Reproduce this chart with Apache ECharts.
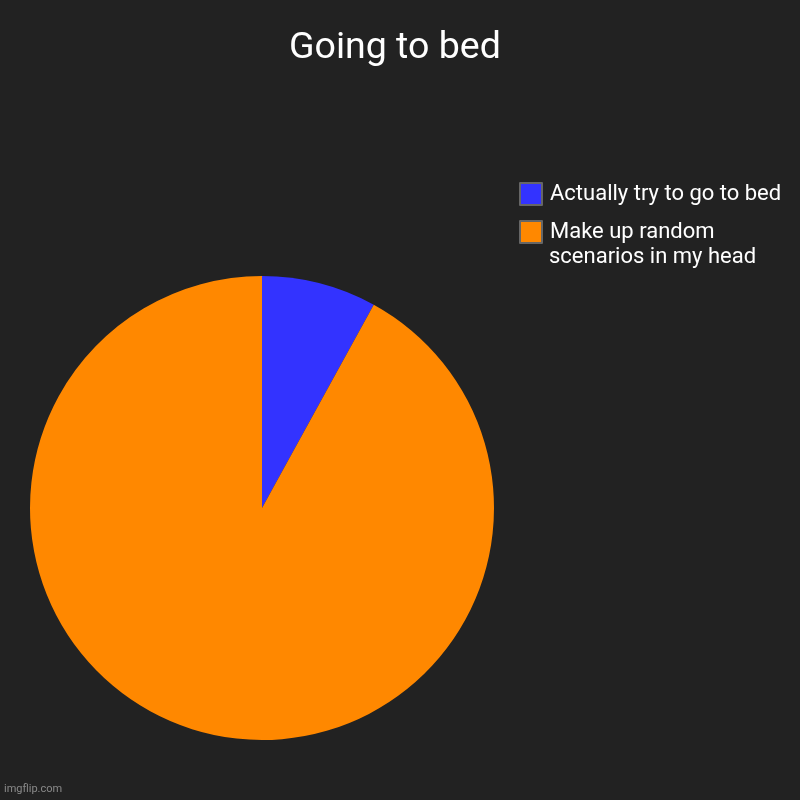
<!DOCTYPE html>
<html>
<head>
<meta charset="utf-8">
<script src="https://cdn.jsdelivr.net/npm/echarts@6/dist/echarts.min.js"></script>
<style>
  html, body { margin: 0; padding: 0; background: #222222; }
  #chart { width: 800px; height: 800px; }
</style>
</head>
<body>
<div id="chart"></div>
<script>
// data
const categories = ['Actually try to go to bed', 'Make up random scenarios in my head'];
const values = [8, 92];
const colors = ['#3333ff', '#ff8800'];

const chart = echarts.init(document.getElementById('chart'));

const pieData = categories.map((name, i) => ({
  name: name,
  value: values[i],
  itemStyle: { color: colors[i] }
}));

const option = {
  backgroundColor: '#222222',
  animation: false,
  title: {
    text: 'Going to bed',
    left: 289,
    top: 30,
    padding: 0,
    textStyle: { color: '#ffffff', fontSize: 37.5, fontWeight: 'normal', fontFamily: 'Roboto' }
  },
  legend: {
    orient: 'vertical',
    left: 519,
    top: 182,
    padding: 0,
    itemWidth: 22,
    itemHeight: 22,
    itemGap: 14,
    itemTextGap: 9,
    icon: 'rect',
    data: categories,
    formatter: function (name) {
      // second category wraps onto a second line (drawn below as graphic text)
      return name === categories[1] ? 'Make up random' : name;
    },
    itemStyle: { borderColor: '#666666', borderWidth: 2 },
    textStyle: { color: '#ffffff', fontSize: 22, lineHeight: 22, fontFamily: 'Roboto', padding: [0, 0, 0, 3] },
    selectedMode: false
  },
  graphic: [
    {
      type: 'text',
      left: 549,
      top: 246,
      style: { text: 'scenarios in my head', fill: '#ffffff', font: '22px Roboto' }
    },
    {
      type: 'text',
      left: 4,
      top: 784,
      style: { text: 'imgflip.com', fill: '#8a8a8a', font: '11px Roboto' }
    }
  ],
  series: [
    {
      type: 'pie',
      center: [262, 508],
      radius: 232,
      startAngle: 90,
      clockwise: true,
      label: { show: false },
      labelLine: { show: false },
      emphasis: { disabled: true },
      itemStyle: { borderWidth: 0 },
      data: pieData
    }
  ]
};
chart.setOption(option);
</script>
</body>
</html>
